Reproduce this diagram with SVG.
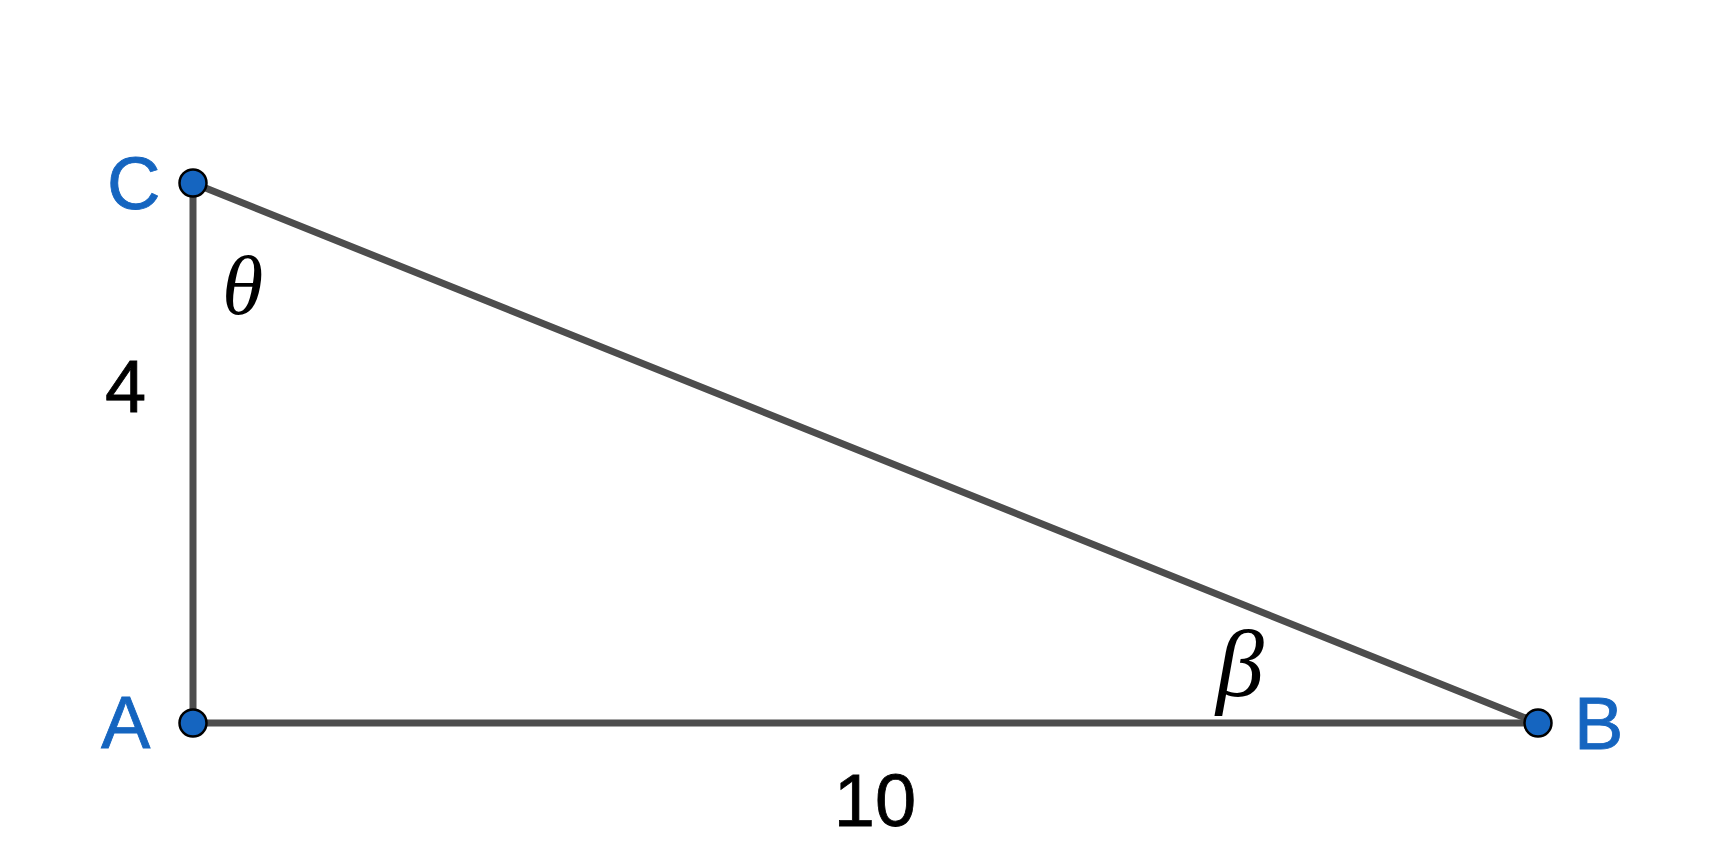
<svg xmlns="http://www.w3.org/2000/svg" width="1725" height="864" viewBox="0 0 1725 864">
<style>
.edge{stroke:#4d4d4d;stroke-width:7;fill:none;stroke-linecap:round}
.pt{fill:#1565c0;stroke:#000;stroke-width:2.5}
.lbl{font-family:"Liberation Sans",Arial,sans-serif;font-size:74px;fill:#1565c0;stroke:#1565c0;stroke-width:0.8}
.num{font-family:"Liberation Sans",Arial,sans-serif;font-size:74px;fill:#000;stroke:#000;stroke-width:0.8}
.ang{font-family:"Liberation Serif","Times New Roman",serif;font-style:italic;fill:#000}
</style>
<rect width="1725" height="864" fill="#fff"/>
<g id="connectors">
<line class="edge" x1="193" y1="183" x2="193" y2="723"/>
<line class="edge" x1="193" y1="723" x2="1538" y2="723"/>
<line class="edge" x1="193" y1="183" x2="1538" y2="723"/>
</g>
<g id="A"><circle class="pt" cx="193" cy="723" r="13.5"/><text class="lbl" x="101" y="748">A</text></g>
<g id="B"><circle class="pt" cx="1538" cy="723" r="13.5"/><text class="lbl" x="1574" y="749">B</text></g>
<g id="C"><circle class="pt" cx="193" cy="183" r="13.5"/><text class="lbl" x="107" y="209">C</text></g>
<g id="side-AC"><text class="num" x="105" y="412">4</text></g>
<g id="side-AB"><text class="num" x="875" y="826" text-anchor="middle">10</text></g>
<g id="angle-theta"><text class="ang" x="222" y="314" font-size="84">θ</text></g>
<g id="angle-beta"><text class="ang" x="1216" y="696" font-size="96">β</text></g>
</svg>
